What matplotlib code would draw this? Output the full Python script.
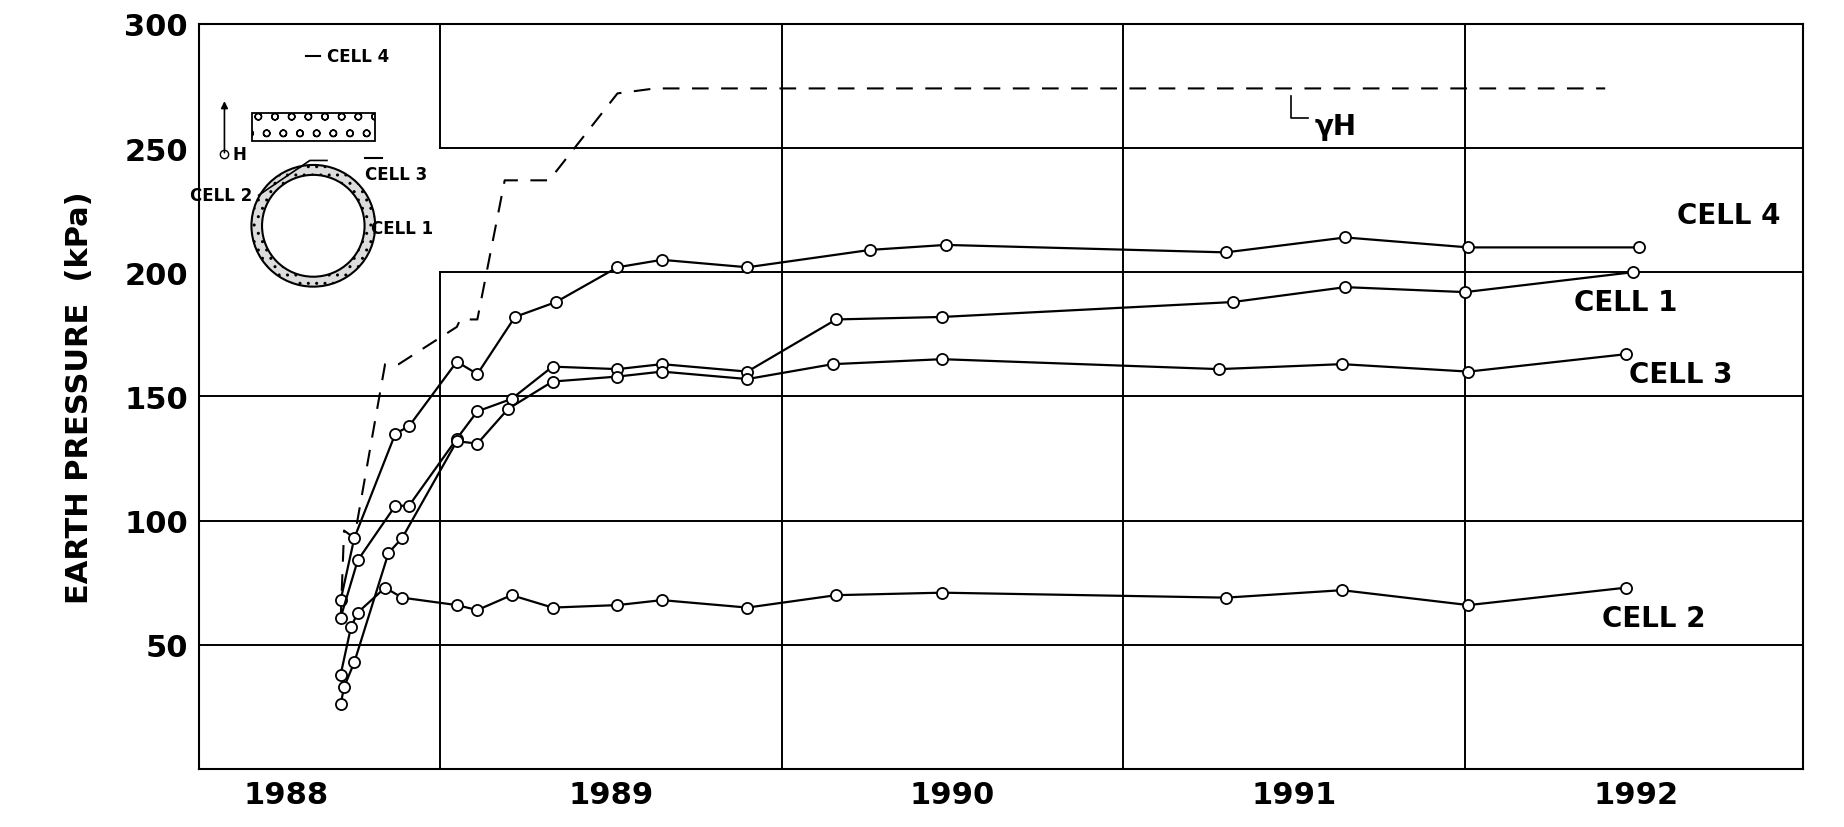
import matplotlib
matplotlib.use("Agg")
import matplotlib.pyplot as plt
from matplotlib.patches import Ellipse, Rectangle

plt.rcParams['font.family'] = ['DejaVu Sans']

gh_x = [1988.21, 1988.22, 1988.25, 1988.34, 1988.38, 1988.55, 1988.56, 1988.61, 1988.69, 1988.82, 1989.02, 1989.13, 1991.91]
gh_y = [60, 96, 93, 163, 163, 178, 181, 181, 237, 237, 272, 274, 274]

c4_x = [1988.21, 1988.25, 1988.37, 1988.41, 1988.55, 1988.61, 1988.72, 1988.84, 1989.02, 1989.15, 1989.40, 1989.76, 1989.98, 1990.80, 1991.15, 1991.51, 1992.01]
c4_y = [68, 93, 135, 138, 164, 159, 182, 188, 202, 205, 202, 209, 211, 208, 214, 210, 210]

c1_x = [1988.21, 1988.26, 1988.37, 1988.41, 1988.55, 1988.61, 1988.71, 1988.83, 1989.02, 1989.15, 1989.40, 1989.66, 1989.97, 1990.82, 1991.15, 1991.50, 1991.99]
c1_y = [61, 84, 106, 106, 133, 144, 149, 162, 161, 163, 160, 181, 182, 188, 194, 192, 200]

c3_x = [1988.21, 1988.22, 1988.25, 1988.35, 1988.39, 1988.55, 1988.61, 1988.70, 1988.83, 1989.02, 1989.15, 1989.40, 1989.65, 1989.97, 1990.78, 1991.14, 1991.51, 1991.97]
c3_y = [26, 33, 43, 87, 93, 132, 131, 145, 156, 158, 160, 157, 163, 165, 161, 163, 160, 167]

c2_x = [1988.21, 1988.24, 1988.26, 1988.34, 1988.39, 1988.55, 1988.61, 1988.71, 1988.83, 1989.02, 1989.15, 1989.40, 1989.66, 1989.97, 1990.80, 1991.14, 1991.51, 1991.97]
c2_y = [38, 57, 63, 73, 69, 66, 64, 70, 65, 66, 68, 65, 70, 71, 69, 72, 66, 73]

year_labels = ['1988', '1989', '1990', '1991', '1992']
year_pos = [1988.05, 1989.0, 1990.0, 1991.0, 1992.0]
y_ticks = [50, 100, 150, 200, 250, 300]

fig = plt.figure(figsize=(18.44, 8.28), dpi=100)
ax = fig.add_axes([0.108, 0.07, 0.87, 0.90])
ax.set_xlim(1987.796, 1992.49)
ax.set_ylim(0, 300)
for s in ax.spines.values():
    s.set_linewidth(1.5)

lw = 1.4
for y in [50, 100, 150]:
    ax.plot([1987.796, 1992.49], [y, y], color='black', lw=lw)
for y in [200, 250]:
    ax.plot([1988.5, 1992.49], [y, y], color='black', lw=lw)
ax.plot([1988.5, 1988.5], [250, 300], color='black', lw=lw)
ax.plot([1988.5, 1988.5], [0, 200], color='black', lw=lw)
for x in [1989.5, 1990.5, 1991.5]:
    ax.plot([x, x], [0, 300], color='black', lw=lw)

ax.plot(gh_x, gh_y, color='black', lw=1.5, ls=(0, (8, 6)))
mk = dict(color='black', lw=1.6, marker='o', ms=8, mfc='white', mec='black', mew=1.3)
for xs, ys in [(c4_x, c4_y), (c1_x, c1_y), (c3_x, c3_y), (c2_x, c2_y)]:
    ax.plot(xs, ys, **mk)

ax.set_xticks(year_pos)
ax.set_xticklabels(year_labels)
ax.set_yticks(y_ticks)
ax.tick_params(length=0, labelsize=22, pad=8)
for t in ax.get_xticklabels() + ax.get_yticklabels():
    t.set_fontweight('bold')
ax.set_ylabel('EARTH PRESSURE  (kPa)', fontsize=22, fontweight='bold', labelpad=22)

lab = dict(fontsize=20, fontweight='bold', ha='left', va='center')
ax.text(1992.12, 223, 'CELL 4', **lab)
ax.text(1991.82, 188, 'CELL 1', **lab)
ax.text(1991.98, 159, 'CELL 3', **lab)
ax.text(1991.90, 61, 'CELL 2', **lab)

# gamma H marker
ax.plot([1990.99, 1990.99, 1991.04], [271, 262, 262], color='black', lw=1.2)
ax.text(1991.06, 259, 'γH', fontsize=20, fontweight='bold', ha='left', va='center')

# inset
sl = dict(fontsize=12, fontweight='bold', va='center')
ax.plot([1988.11, 1988.15], [287, 287], color='black', lw=1.5)
ax.text(1988.17, 287, 'CELL 4', ha='left', **sl)
ax.add_patch(Rectangle((1987.95, 253), 0.36, 11, fill=True, fc='white', ec='black', lw=1.3, hatch='o'))
ax.annotate('', xy=(1987.87, 270), xytext=(1987.87, 247),
            arrowprops=dict(arrowstyle='-|>', color='black', lw=1.2, mutation_scale=10))
ax.plot([1987.87], [247.5], marker='o', ms=6, mfc='white', mec='black')
ax.text(1987.895, 247.5, 'H', ha='left', **sl)
ax.add_patch(Ellipse((1988.13, 218.7), 0.362, 49, fc='#dddddd', ec='black', lw=1.5, hatch='..'))
ax.add_patch(Ellipse((1988.13, 218.7), 0.30, 41, fc='white', ec='black', lw=1.5))
ax.plot([1987.97, 1988.12, 1988.17], [231, 245, 245], color='black', lw=1.2)
ax.text(1987.95, 231, 'CELL 2', ha='right', **sl)
ax.plot([1988.28, 1988.33], [246, 246], color='black', lw=1.5)
ax.text(1988.28, 239.5, 'CELL 3', ha='left', **sl)
ax.text(1988.30, 218, 'CELL 1', ha='left', **sl)

fig.savefig('out.png', dpi=100)
